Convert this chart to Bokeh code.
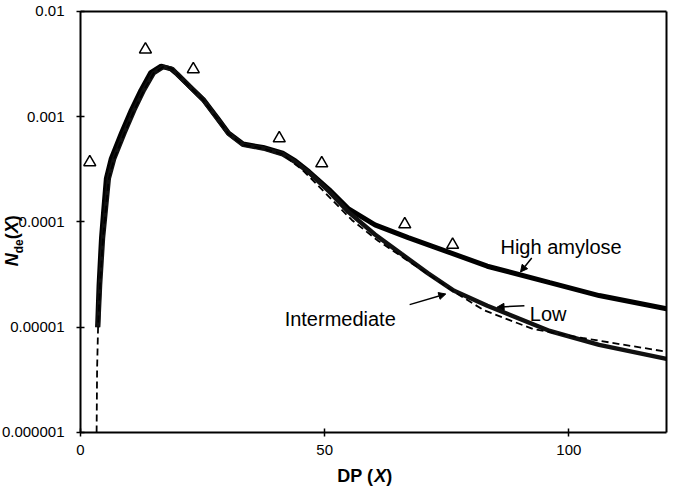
import math

from bokeh.plotting import figure
from bokeh.embed import file_html
from bokeh.resources import INLINE
from bokeh.models import (Range1d, FixedTicker, CustomJSTickFormatter,
                          Label, Arrow, NormalHead, LinearAxis, LogAxis)

# --- data ---
ha_dp = [3.5, 3.8, 4.3, 4.7, 5.3, 6.3, 8.4, 10.4, 12.4, 14.4, 16.5, 18.5,
         19.8, 22.5, 25.2, 28.0, 30.3, 33.3, 37.4, 41.4, 44.0, 46.8, 50.9,
         54.9, 60.3, 67.1, 73.8, 83.3, 96.1, 106.2, 120.0]
ha_nde = [1.0e-5, 2.5e-5, 7.0e-5, 1.2e-4, 2.6e-4, 4.0e-4, 7.0e-4, 1.15e-3,
          1.79e-3, 2.63e-3, 3.03e-3, 2.85e-3, 2.54e-3, 1.92e-3, 1.45e-3,
          9.8e-4, 7.0e-4, 5.5e-4, 5.1e-4, 4.5e-4, 3.8e-4, 3.0e-4, 2.03e-4,
          1.33e-4, 9.4e-5, 7.1e-5, 5.5e-5, 3.8e-5, 2.65e-5, 2.0e-5, 1.5e-5]

low_dp = [3.6, 4.0, 4.6, 5.1, 5.8, 6.9, 9.0, 11.0, 13.0, 15.0, 17.0, 18.8,
          22.5, 25.2, 28.0, 30.3, 33.3, 37.4, 41.4, 44.0, 46.8, 50.9, 54.9,
          60.3, 65.7, 71.1, 76.5, 83.3, 96.1, 106.2, 120.0]
low_nde = [1.0e-5, 2.5e-5, 7.0e-5, 1.2e-4, 2.6e-4, 4.0e-4, 7.0e-4, 1.15e-3,
           1.79e-3, 2.6e-3, 2.98e-3, 2.85e-3, 1.9e-3, 1.43e-3, 9.6e-4, 6.9e-4,
           5.4e-4, 5.0e-4, 4.4e-4, 3.7e-4, 2.95e-4, 1.95e-4, 1.24e-4, 7.6e-5,
           4.98e-5, 3.27e-5, 2.22e-5, 1.6e-5, 9.2e-6, 6.8e-6, 5.0e-6]

mid_dp = [3.3, 3.4, 3.6, 4.0, 4.6, 5.1, 5.8, 6.9, 9.0, 11.0, 13.0, 15.0,
          17.0, 18.8, 22.5, 25.2, 28.0, 30.3, 33.3, 37.4, 41.4, 45.5, 48.8,
          55.6, 61.0, 66.4, 71.8, 77.2, 82.6, 92.7, 102.8, 120.0]
mid_nde = [1.0e-6, 4.0e-6, 1.0e-5, 2.5e-5, 7.0e-5, 1.2e-4, 2.6e-4, 4.0e-4,
           7.0e-4, 1.15e-3, 1.79e-3, 2.6e-3, 2.98e-3, 2.85e-3, 1.9e-3,
           1.43e-3, 9.6e-4, 6.9e-4, 5.4e-4, 5.0e-4, 4.4e-4, 3.1e-4, 2.18e-4,
           1.04e-4, 6.6e-5, 4.48e-5, 3.05e-5, 2.07e-5, 1.45e-5, 9.6e-6, 7.9e-6,
           5.85e-6]

exp_dp = [1.9, 13.3, 23.1, 40.7, 49.4, 66.4, 76.2]
exp_nde = [3.7e-4, 4.36e-3, 2.83e-3, 6.24e-4, 3.61e-4, 9.5e-5, 6.06e-5]

x_ticks = [0, 50, 100]
y_ticks = [1e-6, 1e-5, 1e-4, 1e-3, 1e-2]
X_MIN, X_MAX = 0, 120
Y_MIN, Y_MAX = 1e-6, 1e-2

FONT = "Liberation Sans"
PX_PER_DECADE = 105.25


def up(y, px):
    # move a log-axis position up by px screen pixels
    return y * 10 ** (px / PX_PER_DECADE)


# the frame fills the canvas; the axes sit at fixed positions inside it
p = figure(width=669, height=487, output_backend="svg", toolbar_location=None,
           y_axis_type="log", x_range=Range1d(-16.38, 120.61),
           y_range=Range1d(3.0e-7, 1.272e-2),
           min_border=0)
p.xgrid.visible = False
p.ygrid.visible = False
p.outline_line_color = None

# curves
p.line(ha_dp, ha_nde, line_color="black", line_width=5)
p.line(low_dp, low_nde, line_color="#111111", line_width=4.5)
p.line(mid_dp, mid_nde, line_color="black", line_width=1.8, line_dash="7 4")

# experimental points
p.scatter(exp_dp, exp_nde, marker="triangle", size=12, fill_color="white",
          line_color="black", line_width=1.5)

# axes
top = LinearAxis(fixed_location=Y_MAX, bounds=(X_MIN, X_MAX),
                 ticker=FixedTicker(ticks=[]))
right = LogAxis(fixed_location=X_MAX, bounds=(Y_MIN, Y_MAX),
                ticker=FixedTicker(ticks=[]))
p.add_layout(top, "above")
p.add_layout(right, "right")

for ax in p.xaxis + p.yaxis:
    ax.axis_line_width = 2
    ax.axis_line_color = "black"
    ax.major_tick_in = 4
    ax.major_tick_out = 4
    ax.major_tick_line_width = 1.5
    ax.minor_tick_line_color = None
    ax.major_label_text_font = FONT
    ax.major_label_text_font_size = "15px"
    ax.major_label_text_color = "black"

xa = p.below[0]
ya = p.left[0]
xa.fixed_location = Y_MIN
xa.bounds = (X_MIN, X_MAX)
xa.ticker = FixedTicker(ticks=x_ticks)
xa.major_label_standoff = 9
ya.fixed_location = X_MIN
ya.bounds = (Y_MIN, Y_MAX)
ya.ticker = FixedTicker(ticks=y_ticks)
ya.major_label_standoff = 12
ya.formatter = CustomJSTickFormatter(
    code="return tick.toFixed(Math.max(0, -Math.round(Math.log10(tick))));")

# x axis title: DP (X)
xl_x, xl_y = 52.6, 3.82e-7
for txt, off, style in [("DP (", 0, "bold"), ("X", 37, "bold italic"),
                        (")", 49, "bold")]:
    p.add_layout(Label(x=xl_x, y=xl_y, x_offset=off, text=txt,
                       text_font=FONT, text_font_size="18px",
                       text_font_style=style, text_color="black",
                       text_baseline="alphabetic"))

# y axis title: N_de(X), rotated
yl_y = 3.79e-5
for txt, px, xx, size, style in [("N", 0, -14.1, "18px", "bold italic"),
                                 ("de", 13, -12.6, "12px", "bold"),
                                 ("(", 27, -14.1, "18px", "bold"),
                                 ("X", 33, -14.1, "18px", "bold italic"),
                                 (")", 45, -14.1, "18px", "bold")]:
    p.add_layout(Label(x=xx, y=up(yl_y, px), text=txt, angle=math.pi / 2,
                       text_font=FONT, text_font_size=size,
                       text_font_style=style, text_color="black",
                       text_align="left", text_baseline="middle"))

# curve annotations
for txt, tx, ty in [("High amylose", 86.0, 5.8e-5), ("Low", 92.0, 1.33e-5),
                    ("Intermediate", 41.8, 1.19e-5)]:
    p.add_layout(Label(x=tx, y=ty, text=txt, text_font=FONT,
                       text_font_size="20px", text_color="black",
                       text_baseline="alphabetic"))

for xs, ys, xe, ye in [(92.4, 4.55e-5, 90.1, 3.35e-5),
                       (90.9, 1.6e-5, 85.3, 1.55e-5),
                       (67.4, 1.64e-5, 74.8, 2.07e-5)]:
    p.add_layout(Arrow(end=NormalHead(size=7, fill_color="black",
                                      line_color="black"),
                       x_start=xs, y_start=ys, x_end=xe, y_end=ye,
                       line_width=1.5, line_color="black"))

open("out.html", "w").write(file_html(p, INLINE))
